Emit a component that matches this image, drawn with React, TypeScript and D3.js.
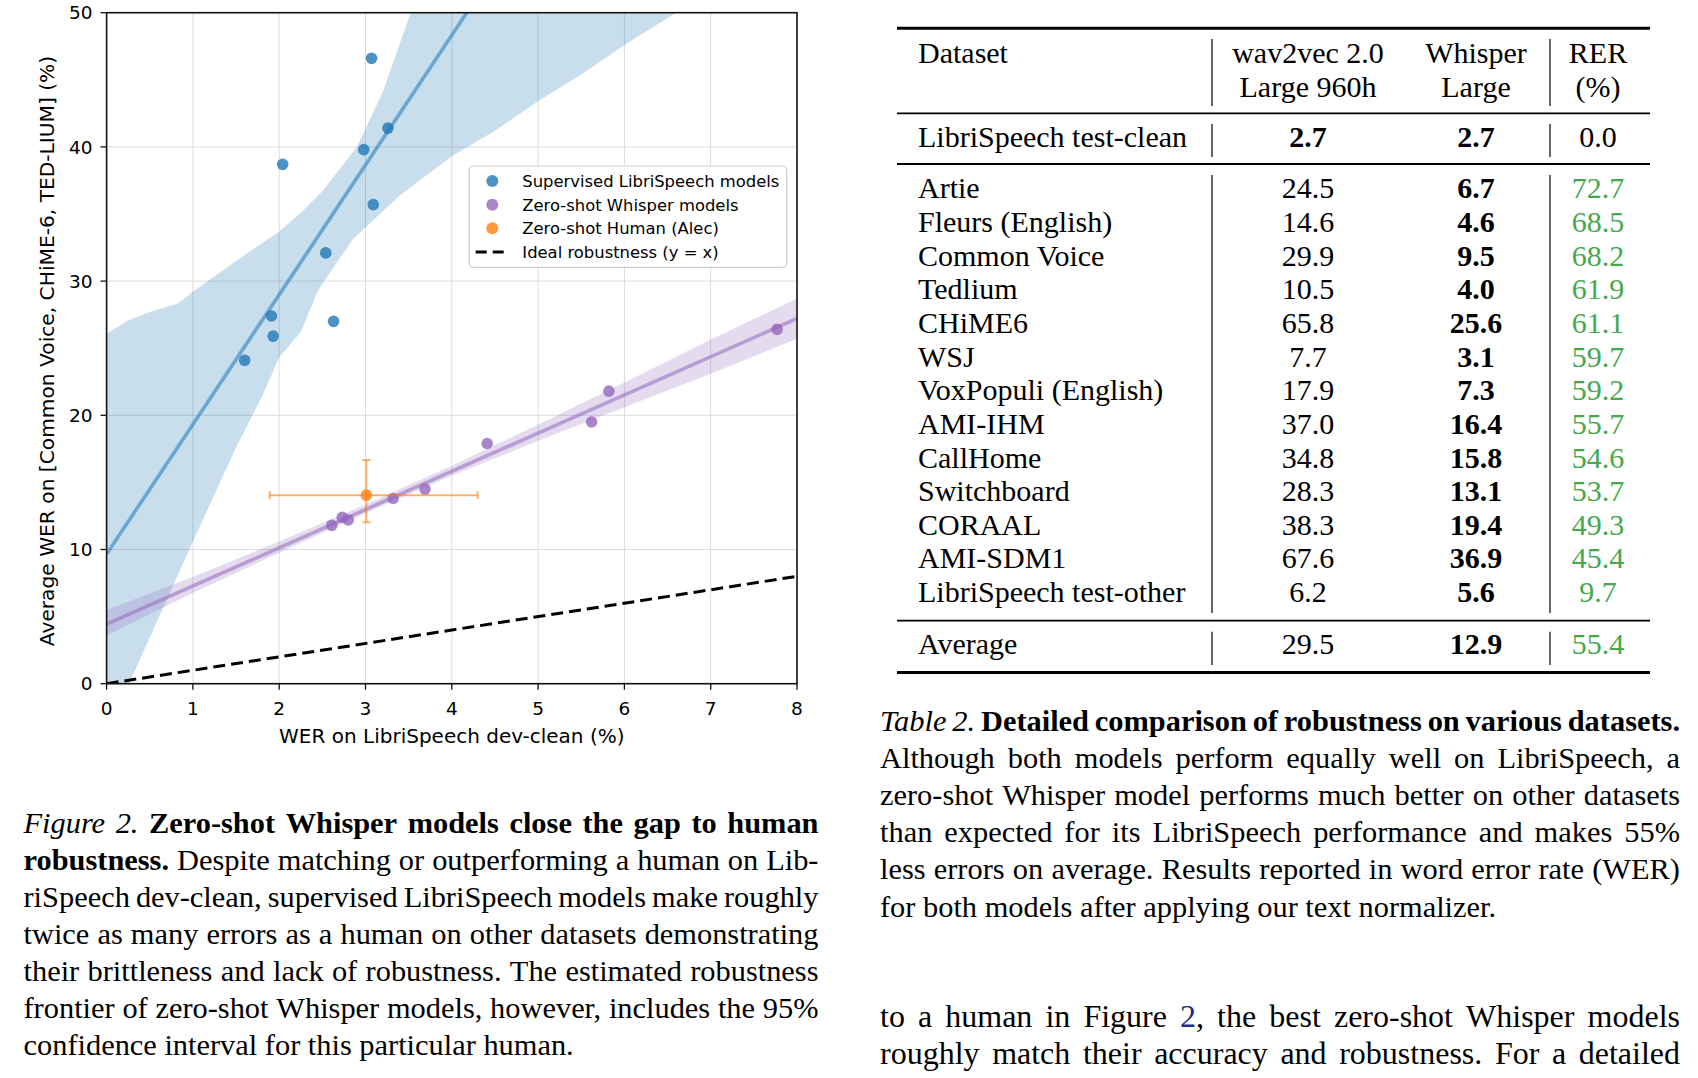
import React from 'react';
import * as d3 from 'd3';

const W = 1698;
const H = 1078;

// ---- scatter data ----
const supervisedX = [1.6, 1.91, 1.93, 2.04, 2.54, 2.63, 2.98, 3.07, 3.09, 3.26];
const supervisedY = [24.1, 27.4, 25.9, 38.7, 32.1, 27.0, 39.8, 46.6, 35.7, 41.4];
const whisperX = [2.61, 2.73, 2.8, 3.32, 3.69, 4.41, 5.62, 5.82, 7.77];
const whisperY = [11.8, 12.4, 12.2, 13.8, 14.5, 17.9, 19.5, 21.8, 26.4];
const humanPoint = [3.01, 14.05];
const humanXErr = [1.89, 4.3];
const humanYErr = [12.03, 16.67];

// bootstrap confidence bands (edges)
const blueUpper = [[0, 26.1], [0.26, 27.1], [0.5, 27.7], [0.83, 28.35], [1.0, 29.2], [1.5, 31.5], [2.0, 33.7], [2.25, 35.1], [2.5, 36.7], [2.9, 40.0], [3.2, 44.1], [3.54, 50.3], [4.0, 58], [5.0, 70], [6.0, 82], [8.0, 106]];
const blueLower = [[0, -3.8], [0.26, 0], [1.0, 10.6], [1.5, 17.6], [1.8, 21.4], [2.0, 24.3], [2.25, 26.2], [2.45, 29.3], [2.85, 33.1], [3.4, 36.4], [4.0, 39.3], [4.5, 41.2], [5.0, 43.4], [5.5, 45.4], [6.0, 47.6], [6.6, 50], [7.0, 51.7], [8.0, 56]];
const purpleBandX = [0, 1, 2, 3, 4, 5, 6, 7, 8];
const purpleUpper = [5.5, 7.95, 10.6, 13.35, 16.25, 19.3, 22.45, 25.65, 28.7];
const purpleLower = [3.6, 6.75, 9.75, 12.7, 15.5, 18.1, 20.6, 23.1, 25.7];

const xTicks = [0, 1, 2, 3, 4, 5, 6, 7, 8];
const yTicks = [0, 10, 20, 30, 40, 50];

// ---- table data ----
const headerLines = [
  ['Dataset', 'wav2vec 2.0', 'Whisper', 'RER'],
  ['', 'Large 960h', 'Large', '(%)'],
];
const cleanRow = ['LibriSpeech test-clean', '2.7', '2.7', '0.0'];
const datasets = ['Artie', 'Fleurs (English)', 'Common Voice', 'Tedlium', 'CHiME6', 'WSJ', 'VoxPopuli (English)', 'AMI-IHM', 'CallHome', 'Switchboard', 'CORAAL', 'AMI-SDM1', 'LibriSpeech test-other'];
const wav2vec = ['24.5', '14.6', '29.9', '10.5', '65.8', '7.7', '17.9', '37.0', '34.8', '28.3', '38.3', '67.6', '6.2'];
const whisperLarge = ['6.7', '4.6', '9.5', '4.0', '25.6', '3.1', '7.3', '16.4', '15.8', '13.1', '19.4', '36.9', '5.6'];
const rer = ['72.7', '68.5', '68.2', '61.9', '61.1', '59.7', '59.2', '55.7', '54.6', '53.7', '49.3', '45.4', '9.7'];
const averageRow = ['Average', '29.5', '12.9', '55.4'];

// ---- captions (*bold*, _italic_, {link}) ----
const figCaption = [
  '_Figure 2._ *Zero-shot Whisper models close the gap to human*',
  '*robustness.* Despite matching or outperforming a human on Lib-',
  'riSpeech dev-clean, supervised LibriSpeech models make roughly',
  'twice as many errors as a human on other datasets demonstrating',
  'their brittleness and lack of robustness. The estimated robustness',
  'frontier of zero-shot Whisper models, however, includes the 95%',
  'confidence interval for this particular human.',
];
const tableCaption = [
  '_Table 2._ *Detailed comparison of robustness on various datasets.*',
  'Although both models perform equally well on LibriSpeech, a',
  'zero-shot Whisper model performs much better on other datasets',
  'than expected for its LibriSpeech performance and makes 55%',
  'less errors on average. Results reported in word error rate (WER)',
  'for both models after applying our text normalizer.',
];
const bodyText = [
  'to a human in Figure {2}, the best zero-shot Whisper models',
  'roughly match their accuracy and robustness. For a detailed',
];

const SERIF = '"Liberation Serif", "Times New Roman", serif';
const SANS = '"DejaVu Sans", sans-serif';
const GREEN = '#45a84d';
const LINK = '#232d84';

const canvasCtx = typeof document !== 'undefined' ? document.createElement('canvas').getContext('2d') : null;

function fontFor(style: string, size: number) {
  return `${style === 'i' ? 'italic ' : ''}${style === 'b' ? 'bold ' : ''}${size}px ${SERIF}`;
}

function measure(text: string, style: string, size: number) {
  if (!canvasCtx) return text.length * size * 0.45;
  canvasCtx.font = fontFor(style, size);
  return canvasCtx.measureText(text).width;
}

type Run = { style: string; text: string };

function parseLine(s: string): Run[][] {
  let style = 'n';
  const chars: { ch: string; style: string }[] = [];
  for (const ch of s) {
    if (ch === '*') { style = style === 'b' ? 'n' : 'b'; continue; }
    if (ch === '_') { style = style === 'i' ? 'n' : 'i'; continue; }
    if (ch === '{') { style = 'l'; continue; }
    if (ch === '}') { style = 'n'; continue; }
    chars.push({ ch, style });
  }
  const words: { ch: string; style: string }[][] = [];
  let cur: { ch: string; style: string }[] = [];
  chars.forEach(c => {
    if (c.ch === ' ') { if (cur.length) words.push(cur); cur = []; return; }
    cur.push(c);
  });
  if (cur.length) words.push(cur);
  return words.map(w => {
    const runs: Run[] = [];
    w.forEach(c => {
      const last = runs[runs.length - 1];
      if (last && last.style === c.style) last.text += c.ch;
      else runs.push({ style: c.style, text: c.ch });
    });
    return runs;
  });
}

function Paragraph({ lines, x, y0, width, lead, size, justifyLast = false }: any) {
  return (
    <g>
      {lines.map((line: string, li: number) => {
        const words = parseLine(line);
        const widths = words.map(w => w.reduce((s, r) => s + measure(r.text, r.style, size), 0));
        const total = widths.reduce((a, b) => a + b, 0);
        const isLast = li === lines.length - 1 && !justifyLast;
        const gap = isLast || words.length < 2 ? measure(' ', 'n', size) : (width - total) / (words.length - 1);
        let cx = x;
        const y = y0 + li * lead;
        return words.map((w, wi) => {
          const px = cx;
          cx += widths[wi] + gap;
          return (
            <text key={`${li}-${wi}`} x={px} y={y} fontFamily={SERIF} fontSize={size} fill="#000">
              {w.map((r, ri) => (
                <tspan key={ri}
                  fontWeight={r.style === 'b' ? 'bold' : 'normal'}
                  fontStyle={r.style === 'i' ? 'italic' : 'normal'}
                  fill={r.style === 'l' ? LINK : '#000'}>{r.text}</tspan>
              ))}
            </text>
          );
        });
      })}
    </g>
  );
}

function linearFit(xs: number[], ys: number[]) {
  const mx = d3.mean(xs)!;
  const my = d3.mean(ys)!;
  let sxy = 0, sxx = 0;
  xs.forEach((x, i) => { sxy += (x - mx) * (ys[i] - my); sxx += (x - mx) ** 2; });
  const slope = sxy / sxx;
  return { slope, intercept: my - slope * mx };
}

function Chart() {
  const left = 106.6, right = 797, top = 12.7, bottom = 683.7;
  const x = d3.scaleLinear().domain([0, 8]).range([left, right]);
  const y = d3.scaleLinear().domain([0, 50]).range([bottom, top]);

  const line = d3.line<number[]>().x(d => x(d[0])).y(d => y(d[1]));
  const bluePath = line(blueUpper.concat(blueLower.slice().reverse())) + 'Z';
  const purpleArea = d3.area<number>()
    .x(d => x(d))
    .y0((d, i) => y(purpleLower[i]))
    .y1((d, i) => y(purpleUpper[i]));

  const bFit = linearFit(supervisedX, supervisedY);
  const pFit = linearFit(whisperX, whisperY);
  const fitLine = (f: any) => line([[0, f.intercept], [8, f.intercept + f.slope * 8]]);

  const legendItems = [
    { label: 'Supervised LibriSpeech models', color: '#1f77b4', kind: 'dot' },
    { label: 'Zero-shot Whisper models', color: '#9467bd', kind: 'dot' },
    { label: 'Zero-shot Human (Alec)', color: '#ff7f0e', kind: 'dot' },
    { label: 'Ideal robustness (y = x)', color: '#000', kind: 'dash' },
  ];
  const legendRows = [181, 204.7, 228.3, 252];

  return (
    <g>
      <defs>
        <clipPath id="plotClip">
          <rect x={left} y={top} width={right - left} height={bottom - top} />
        </clipPath>
      </defs>
      {/* grid */}
      <g stroke="#dcdcdc" strokeWidth={1}>
        {xTicks.slice(1, -1).map(t => <line key={t} x1={x(t)} x2={x(t)} y1={top} y2={bottom} />)}
        {yTicks.slice(1, -1).map(t => <line key={t} x1={left} x2={right} y1={y(t)} y2={y(t)} />)}
      </g>
      <g clipPath="url(#plotClip)">
        <path d={bluePath} fill="#1f77b4" fillOpacity={0.24} />
        <path d={purpleArea(purpleBandX)!} fill="#9467bd" fillOpacity={0.24} />
        <path d={fitLine(bFit)!} stroke="#1f77b4" strokeOpacity={0.55} strokeWidth={3.6} fill="none" />
        <path d={fitLine(pFit)!} stroke="#9467bd" strokeOpacity={0.55} strokeWidth={3.6} fill="none" />
        <line x1={x(0)} y1={y(0)} x2={x(8)} y2={y(8)} stroke="#000" strokeWidth={3} strokeDasharray="12,6" />
        {supervisedX.map((v, i) => (
          <circle key={'s' + i} cx={x(v)} cy={y(supervisedY[i])} r={5.8} fill="#1f77b4" fillOpacity={0.8} />
        ))}
        {whisperX.map((v, i) => (
          <circle key={'w' + i} cx={x(v)} cy={y(whisperY[i])} r={5.8} fill="#9467bd" fillOpacity={0.8} />
        ))}
        {/* human with error bars */}
        <g stroke="#ff7f0e" strokeOpacity={0.6} strokeWidth={2} fill="none">
          <line x1={x(humanXErr[0])} x2={x(humanXErr[1])} y1={y(humanPoint[1])} y2={y(humanPoint[1])} />
          <line x1={x(humanPoint[0])} x2={x(humanPoint[0])} y1={y(humanYErr[0])} y2={y(humanYErr[1])} />
          {humanXErr.map((v, i) => <line key={'xc' + i} x1={x(v)} x2={x(v)} y1={y(humanPoint[1]) - 4} y2={y(humanPoint[1]) + 4} />)}
          {humanYErr.map((v, i) => <line key={'yc' + i} x1={x(humanPoint[0]) - 4} x2={x(humanPoint[0]) + 4} y1={y(v)} y2={y(v)} />)}
        </g>
        <circle cx={x(humanPoint[0])} cy={y(humanPoint[1])} r={5.8} fill="#ff7f0e" fillOpacity={0.8} />
      </g>
      {/* frame */}
      <rect x={left} y={top} width={right - left} height={bottom - top} fill="none" stroke="#111" strokeWidth={1.6} />
      {/* ticks */}
      <g stroke="#111" strokeWidth={1.3}>
        {xTicks.map(t => <line key={t} x1={x(t)} x2={x(t)} y1={bottom} y2={bottom + 6} />)}
        {yTicks.map(t => <line key={t} x1={left} x2={left - 6} y1={y(t)} y2={y(t)} />)}
      </g>
      <g fontFamily={SANS} fontSize={18.5} fill="#000">
        {xTicks.map(t => <text key={t} x={x(t)} y={715} textAnchor="middle">{t}</text>)}
        {yTicks.map(t => <text key={t} x={92.5} y={y(t)} dy="0.36em" textAnchor="end">{t}</text>)}
      </g>
      <text x={(left + right) / 2} y={743} textAnchor="middle" fontFamily={SANS} fontSize={20}>WER on LibriSpeech dev-clean (%)</text>
      <text transform="translate(53.6,351) rotate(-90)" textAnchor="middle" fontFamily={SANS} fontSize={20.2}>
        Average WER on [Common Voice, CHiME-6, TED-LIUM] (%)
      </text>
      {/* legend */}
      <rect x={469.3} y={166} width={317.4} height={101.3} rx={4} fill="#fff" fillOpacity={0.8} stroke="#cfcfcf" strokeWidth={1.2} />
      {legendItems.map((it, i) => (
        <g key={it.label}>
          {it.kind === 'dot'
            ? <circle cx={492.3} cy={legendRows[i]} r={6} fill={it.color} fillOpacity={0.8} />
            : <line x1={475.7} x2={505} y1={legendRows[i]} y2={legendRows[i]} stroke="#000" strokeWidth={3} strokeDasharray="11,6" />}
          <text x={522.3} y={legendRows[i]} dy="0.36em" fontFamily={SANS} fontSize={16.4}>{it.label}</text>
        </g>
      ))}
    </g>
  );
}

function Table() {
  const x0 = 897, x1 = 1650;
  const vLines = [1212, 1550];
  const colX = [918, 1308, 1476, 1598];
  const rowBase = 198.3;
  const rowStep = 33.65;
  const fs = 30;

  const cell = (txt: string, col: number, yy: number, bold = false, color = '#000', key?: string) => (
    <text key={key} x={colX[col]} y={yy} textAnchor={col === 0 ? 'start' : 'middle'} fontFamily={SERIF} fontSize={fs}
      fontWeight={bold ? 'bold' : 'normal'} fill={color}>{txt}</text>
  );

  return (
    <g>
      <line x1={x0} x2={x1} y1={28.3} y2={28.3} stroke="#000" strokeWidth={3} />
      <line x1={x0} x2={x1} y1={113.3} y2={113.3} stroke="#000" strokeWidth={1.8} />
      <line x1={x0} x2={x1} y1={164} y2={164} stroke="#000" strokeWidth={1.8} />
      <line x1={x0} x2={x1} y1={620.7} y2={620.7} stroke="#000" strokeWidth={1.8} />
      <line x1={x0} x2={x1} y1={672.5} y2={672.5} stroke="#000" strokeWidth={3} />
      <g stroke="#000" strokeWidth={1.2}>
        {vLines.map(v => (
          <g key={v}>
            <line x1={v} x2={v} y1={39} y2={106} />
            <line x1={v} x2={v} y1={124} y2={157} />
            <line x1={v} x2={v} y1={175} y2={613} />
            <line x1={v} x2={v} y1={631.7} y2={665} />
          </g>
        ))}
      </g>
      {headerLines.map((hl, li) => hl.map((h, ci) => cell(h, ci, 62.7 + li * 34, false, '#000', `h${li}${ci}`)))}
      {cell(cleanRow[0], 0, 147.3, false, '#000', 'c0')}
      {cell(cleanRow[1], 1, 147.3, true, '#000', 'c1')}
      {cell(cleanRow[2], 2, 147.3, true, '#000', 'c2')}
      {cell(cleanRow[3], 3, 147.3, false, '#000', 'c3')}
      {datasets.map((d, i) => {
        const yy = rowBase + i * rowStep;
        return (
          <g key={d}>
            {cell(d, 0, yy)}
            {cell(wav2vec[i], 1, yy)}
            {cell(whisperLarge[i], 2, yy, true)}
            {cell(rer[i], 3, yy, false, GREEN)}
          </g>
        );
      })}
      {cell(averageRow[0], 0, 654, false, '#000', 'a0')}
      {cell(averageRow[1], 1, 654, false, '#000', 'a1')}
      {cell(averageRow[2], 2, 654, true, '#000', 'a2')}
      {cell(averageRow[3], 3, 654, false, GREEN, 'a3')}
    </g>
  );
}

export default function App() {
  return (
    <svg width={W} height={H} viewBox={`0 0 ${W} ${H}`}
      style={{ position: 'absolute', left: 0, top: 0, display: 'block', background: '#fff' }}>
      <rect width={W} height={H} fill="#fff" />
      <Chart />
      <Table />
      <Paragraph lines={figCaption} x={23.5} y0={832.5} width={795} lead={37.1} size={30.4} />
      <Paragraph lines={tableCaption} x={880} y0={730.5} width={800} lead={37.2} size={30.4} />
      <Paragraph lines={bodyText} x={880} y0={1026.7} width={800} lead={37} size={32} justifyLast />
    </svg>
  );
}
